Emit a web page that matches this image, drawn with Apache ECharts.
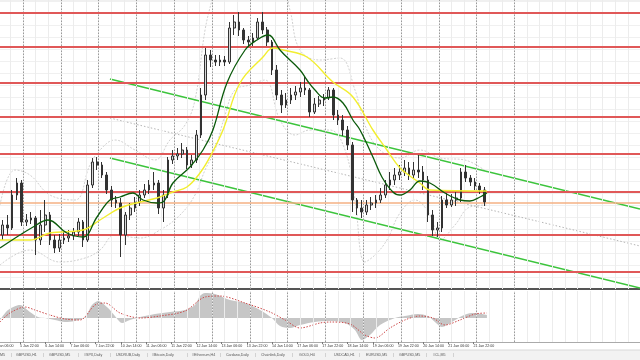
<!DOCTYPE html>
<html><head><meta charset="utf-8">
<script src="https://cdn.jsdelivr.net/npm/echarts@6.0.0/dist/echarts.min.js"></script>
<style>html,body{margin:0;padding:0;background:#fff}#main{width:640px;height:360px}</style>
</head><body><div id="main"></div>
<script>
// ---- price bars (3-hour bars, hours since 5 Jan 08:00, trading time) ----
const barOpen  = [54,64,61,94,106,67,69,71,49,64, 74,49,41,49,51,53,57,67,49,104, 127,124,114,99,89,86,54,74,81,87, 94,99,104,106,81,94,129,133,135,139, 124,129,154,194,234,229,227,229,227,261, 267,259,249,247,251,267,259,247,219,194, 184,189,194,197,201,199,177,185,189,191, 199,174,169,159,144,89,81,77,84,86, 89,94,104,109,114,117,121,114,119,117, 109,74,59,61,89,84,89,91,117,111, 107,103,99];
const barClose = [64,61,94,106,67,69,71,49,64,74, 49,41,49,51,53,57,67,49,104,127, 124,114,99,89,86,54,74,81,87,94, 99,104,106,81,94,129,133,135,139,124, 129,154,194,234,229,227,229,227,261,267, 259,249,247,251,267,259,247,219,194,184, 189,194,197,201,199,177,185,189,191,199, 174,169,159,144,89,81,77,84,86,89, 94,104,109,114,117,121,114,119,117,109, 74,59,61,89,84,89,91,117,111,107, 103,99,87];
const barHigh  = [69,74,99,111,109,75,77,73,79,89, 77,54,55,57,59,61,71,69,109,131, 132,127,117,103,93,91,77,86,92,99, 105,109,117,109,99,132,139,141,146,142, 134,159,201,241,239,234,234,233,267,274, 277,261,253,256,271,277,262,249,224,199, 196,201,203,207,212,201,191,193,195,202, 201,179,174,163,147,91,89,89,92,94, 101,109,117,121,124,129,127,127,134,123, 113,79,67,93,96,95,97,121,124,114, 111,106,102];
const barLow   = [49,54,59,89,63,63,65,34,44,57, 44,36,37,45,47,49,53,42,47,101, 119,111,95,82,81,32,44,69,77,83, 91,95,99,75,67,91,125,129,131,120, 121,126,151,189,222,223,223,223,225,254, 253,245,242,243,249,255,243,214,189,176, 181,185,189,192,194,172,175,182,183,189, 169,164,153,139,77,74,71,74,79,81, 86,91,99,104,109,113,109,111,111,99, 67,53,52,57,81,82,83,87,107,103, 99,95,83];
const barHours = barOpen.map((_, i) => 3 + 3 * i);

// ---- moving averages / bands: [hour, value] ----
const fastMA = [[1.3,41],[22.3,62],[31.8,69],[43.8,56],[54,52],[62.9,72],[71.1,89],[77.5,92],[85.7,96],[92.1,89],[101,86],[104.8,87],[111.1,106],[121.9,122],[130.2,139],[136.5,159],[145.4,206],[156.9,239],[164.5,249],[171.5,254],[174,252],[179.1,239],[191.8,219],[196.2,209],[201.3,199],[207.6,191],[212.7,192],[219.1,186],[225.4,169],[229.9,159],[238.1,132],[243.8,112],[250.8,97],[255.3,94],[261.6,99],[267.9,108],[274.3,106],[283.8,96],[293.4,89],[299.7,88],[306.1,92],[310.5,96]];
const slowMA = [[1.3,49],[20.3,49],[33,56],[54,59],[64.8,69],[77.5,81],[90.2,87],[101,91],[111.1,97],[120,102],[128.3,116],[134.6,132],[142.9,159],[153.7,206],[168.3,232],[174.6,241],[181,239],[196.2,232],[212.7,207],[225.4,192],[238.1,159],[247,139],[255.3,121],[261.6,113],[267.9,106],[274.3,99],[310.5,98]];
const upperBand = [[1.3,84],[10.8,119],[20.3,114],[33,94],[48.9,89],[58.4,124],[64.8,139],[74.3,149],[87,139],[99.7,129],[109.2,149],[118.8,164],[125.1,189],[131.5,259],[135.9,289],[141,319],[179.1,309],[185.4,279],[191.8,239],[204.5,229],[217.2,231],[226.7,199],[233,164],[242.6,139],[255.3,131],[267.9,139],[280.7,131],[296.5,129],[310.5,117]];
const lowerBand = [[1.3,24],[20.3,39],[39.4,27],[55.3,31],[64.8,39],[74.3,54],[90.2,51],[102.9,59],[115.6,74],[125.1,94],[131.5,119],[137.8,139],[144.2,174],[150.5,199],[160,204],[169.5,209],[179.1,169],[188.6,154],[198.1,159],[210.8,159],[220.4,139],[226.7,89],[233,27],[239.4,34],[247,49],[255.3,76],[264.8,89],[274.3,74],[280.7,49],[290.2,64],[299.7,82],[310.5,84]];

// ---- trend channel (two end points each) ----
const channelUpper = [[71.1,210],[407.7,80]];
const channelLower = [[71.1,131],[407.7,1]];
const channelMid   = [[71.1,171],[407.7,43]];

// ---- horizontal levels ----
const redLevels = [276,242,206,172,135,97,54,17];
const orangeLevels = [86];

// ---- oscillator pane ----
const histogram = [[1.3,-2],[6.4,8],[14,13],[20.3,6],[25.4,1],[29.9,0],[36.2,-2],[42.6,-4],[48.9,-3],[55.3,1],[59.7,13],[63.5,17],[69.9,10],[74.3,2],[78.8,-5],[83.8,-2],[90.2,1],[99.7,4],[109.2,6],[118.8,8],[125.1,13],[128.3,22],[131.5,25],[137.8,24],[147.3,18],[156.9,15],[166.4,8],[174,0],[179.1,-8],[185.4,-10],[191.8,-7],[201.3,-4],[210.8,-3],[220.4,-5],[226.7,-12],[231.1,-22],[236.2,-17],[242.6,-7],[252.1,0],[258.4,2],[266.7,4],[273,2],[277.5,-4],[281.9,-9],[288.3,-4],[294.6,2],[301,5],[307.3,4],[310.5,3]];
const signal = [[1.3,-4],[7.6,5],[17.2,11],[23.5,8],[33,3],[42.6,-1],[52.1,-2],[61.6,13],[68,15],[77.5,5],[90.2,0],[102.9,2],[118.8,7],[131.5,21],[141,22],[156.9,15],[172.7,6],[182.3,-2],[191.8,-10],[204.5,-5],[210.8,-4],[223.5,-6],[233,-17],[239.4,-20],[248.9,-10],[258.4,-2],[267.9,2],[276.2,0],[283.8,-7],[293.4,-2],[302.9,4],[310.5,5]];

// ---- time axis ----
const gridHours = [8,16,24,32,40,48,56,64,72,80,88,96,104,112,120,128,136,144,152,160,168,176,184,192,200,208,216,224,232,240,248,256,264,272,280,288,296,304,312,320,328,336,344,352,360,368,376,384,392,400];
const daySeparators = [16,40,64,88,112,136,160,184,208,232,256,280,304,328];
const labelHours = [14,30,46,62,78,94,110,126,142,158,174,190,206,222,238,254,270,286,302];
const labelNames = ['5 Jan 22:00','6 Jan 14:00','7 Jan 06:00','7 Jan 22:00','10 Jan 14:00','11 Jan 06:00','11 Jan 22:00','12 Jan 14:00','13 Jan 06:00','13 Jan 22:00','14 Jan 14:00','17 Jan 06:00','17 Jan 22:00','18 Jan 14:00','19 Jan 06:00','19 Jan 22:00','20 Jan 14:00','21 Jan 06:00','21 Jan 22:00'];
const cutLabel = '5 Jan 06:00';

// ---- symbol tabs ----
const tabNames = ['M5','GBPUSD,H1','GBPUSD,M5','#SPX,Daily','USDRUB,Daily','#Bitcoin,Daily','#Ethereum,H4','Cardano,Daily','Chainlink,Daily','GOLD,H4','USDCAD,H1','EURUSD,M5','GBPUSD,M5','#CL,M5'];
const tabX = [0,16,49,84,116,152,192,226,261,299,334,366,399,433];
const tabSepX = [11,43,78,110,147,187,220,255,292,325,359,393,426,453];

const candleData = barHours.map((t, i) => [t, barOpen[i], barClose[i], barLow[i], barHigh[i]]);

const FONT = 'Liberation Sans';
const XMIN = 1.3, XMAX = 407.7;

const graphic = [
  {type:'rect', silent:true, z:-10, shape:{x:0,y:350,width:640,height:10}, style:{fill:'#f2f2f2'}},
  {type:'line', silent:true, shape:{x1:0,y1:350,x2:640,y2:350}, style:{stroke:'#d8d8d8',lineWidth:1}},
  {type:'text', silent:true, style:{text:cutLabel, x:-5.2, y:344, fill:'#333', fontSize:3.6, fontFamily:FONT, verticalAlign:'top'}}
];
tabNames.forEach((n, i) => graphic.push({type:'text', silent:true, style:{text:n, x:tabX[i], y:355, fill:'#555', fontSize:3.6, fontFamily:FONT, verticalAlign:'middle'}}));
tabSepX.forEach(x => graphic.push({type:'text', silent:true, style:{text:'|', x:x, y:355, fill:'#888', fontSize:3.6, fontFamily:FONT, verticalAlign:'middle'}}));

const vLines = (xi, yi, values, style, z) => ({type:'line', xAxisIndex:xi, yAxisIndex:yi, data:[], silent:true, z:z,
  markLine:{silent:true, symbol:['none','none'], label:{show:false}, animation:false,
    lineStyle:style, data: values.map(v => ({xAxis:v}))}});
const faint = {color:'#ececec', type:'solid', width:1};
const dotted = {color:'#9a9a9a', type:[1.5,1.5], width:1};

const option = {
  animation:false,
  backgroundColor:'#ffffff',
  graphic: graphic,
  grid:[
    {left:0, right:0, top:0, height:289},
    {left:0, right:0, top:291, height:51}
  ],
  xAxis:[
    {type:'value', gridIndex:0, min:XMIN, max:XMAX,
     axisLine:{show:true, onZero:false, lineStyle:{color:'#555', width:2}}, axisTick:{show:false}, axisLabel:{show:false},
     splitLine:{show:false}},
    {type:'value', gridIndex:1, min:XMIN, max:XMAX,
     axisLine:{show:true, onZero:false, lineStyle:{color:'#aaa', width:1}},
     axisTick:{show:true, customValues:labelHours, length:2, lineStyle:{color:'#777'}},
     axisLabel:{show:true, customValues:labelHours, formatter:(v) => labelNames[labelHours.indexOf(v)] || '',
       fontSize:3.6, fontFamily:FONT, color:'#333', align:'left', margin:2},
     splitLine:{show:false}}
  ],
  yAxis:[
    {type:'value', gridIndex:0, min:0, max:289, interval:12,
     axisLine:{show:false}, axisTick:{show:false}, axisLabel:{show:false},
     splitLine:{show:true, lineStyle:{color:'#f0f0f0', width:1}}},
    {type:'value', gridIndex:1, min:-24, max:27,
     axisLine:{show:false}, axisTick:{show:false}, axisLabel:{show:false}, splitLine:{show:false}}
  ],
  series:[
    vLines(0,0,gridHours,faint,0), vLines(1,1,gridHours,faint,0),
    vLines(0,0,daySeparators,dotted,1), vLines(1,1,daySeparators,dotted,1),
    {type:'line', xAxisIndex:0, yAxisIndex:0, data:[], silent:true, z:2,
     markLine:{silent:true, symbol:['none','none'], label:{show:false}, animation:false,
       lineStyle:{color:'#e05858', type:'solid', width:1.8}, data: redLevels.map(v => ({yAxis:v}))}},
    {type:'line', xAxisIndex:0, yAxisIndex:0, data:[], silent:true, z:2,
     markLine:{silent:true, symbol:['none','none'], label:{show:false}, animation:false,
       lineStyle:{color:'#f4b183', type:'solid', width:1.5}, data: orangeLevels.map(v => ({yAxis:v}))}},
    {type:'line', xAxisIndex:0, yAxisIndex:0, data:channelMid, showSymbol:false, silent:true, z:3,
     lineStyle:{color:'#b5b5b5', width:1, type:[1.5,2]}},
    {type:'line', xAxisIndex:0, yAxisIndex:0, data:upperBand, showSymbol:false, silent:true, smooth:0.4, z:3,
     lineStyle:{color:'#c4c4c4', width:0.8, type:[2,1.5]}},
    {type:'line', xAxisIndex:0, yAxisIndex:0, data:lowerBand, showSymbol:false, silent:true, smooth:0.4, z:3,
     lineStyle:{color:'#c4c4c4', width:0.8, type:[2,1.5]}},
    {type:'line', xAxisIndex:0, yAxisIndex:0, data:channelUpper, showSymbol:false, silent:true, z:4,
     lineStyle:{color:'#3cc43c', width:1.5}},
    {type:'line', xAxisIndex:0, yAxisIndex:0, data:channelLower, showSymbol:false, silent:true, z:4,
     lineStyle:{color:'#3cc43c', width:1.5}},
    {type:'candlestick', xAxisIndex:0, yAxisIndex:0, data:candleData, barWidth:2.2, silent:true, z:5,
     itemStyle:{color:'#d8d8d8', color0:'#333333', borderColor:'#333333', borderColor0:'#333333', borderWidth:1}},
    {type:'line', xAxisIndex:0, yAxisIndex:0, data:slowMA, showSymbol:false, silent:true, smooth:0.4, z:6,
     lineStyle:{color:'#f2ee30', width:1.4}},
    {type:'line', xAxisIndex:0, yAxisIndex:0, data:fastMA, showSymbol:false, silent:true, smooth:0.4, z:7,
     lineStyle:{color:'#0b5a0b', width:1.3}},
    {type:'line', xAxisIndex:1, yAxisIndex:1, data:histogram, showSymbol:false, silent:true, smooth:0.3, z:3,
     lineStyle:{width:0}, areaStyle:{color:'#c6c6c6', opacity:1}},
    {type:'line', xAxisIndex:1, yAxisIndex:1, data:signal, showSymbol:false, silent:true, smooth:0.3, z:4,
     lineStyle:{color:'#cc4b4b', width:1, type:[1.5,1.5]}}
  ]
};

const chart = echarts.init(document.getElementById('main'), null, {renderer:'canvas'});
chart.setOption(option);
</script>
</body></html>
